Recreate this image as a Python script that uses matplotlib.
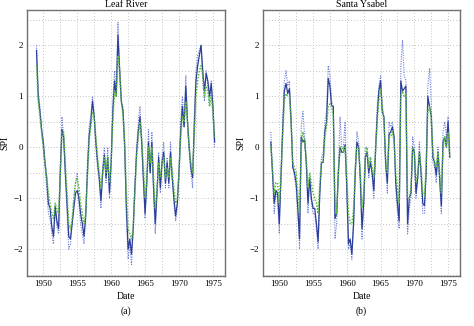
import numpy as np
import matplotlib
matplotlib.use('Agg')
import matplotlib.pyplot as plt
from matplotlib.ticker import MultipleLocator

plt.rcParams['font.family'] = ['Liberation Serif', 'DejaVu Serif']

# Quarterly SPI values, Leaf River (from 1949.0)
leaf_obs = [
    1.9, 1.0, 0.7, 0.35,
    0.1, -0.3, -0.6, -1.1,
    -1.2, -1.55, -1.75, -1.15,
    -1.45, -1.6, -0.5, 0.35,
    0.2, -0.5, -1.1, -1.75,
    -1.8, -1.5, -1.2, -0.9,
    -0.85, -1.0, -1.3, -1.5,
    -1.75, -1.35, -0.5, 0.2,
    0.5, 0.9, 0.6, 0.1,
    -0.3, -0.6, -1.05, -0.5,
    -0.15, -0.6, -0.2, -0.9,
    -0.3, 0.7, 1.3, 1.0,
    2.2, 1.5, 0.9, 0.7,
    0.0, -1.2, -2.0, -1.8,
    -2.1, -1.6, -0.8, -0.1,
    0.3, 0.6, 0.1, -0.6,
    -1.3, -0.7, 0.1, -0.5,
    0.1, -0.8, -1.5, -0.9,
    -0.2, -0.8, -0.3, -0.1,
    -0.7, -0.3, -0.7, -0.1,
    -0.6, -1.0, -1.35, -1.1,
    -0.5, 0.3, 0.8, 0.4,
    1.2, 0.5, 0.0, -0.4,
    -0.6, 0.4, 1.3, 1.6,
    1.8, 2.0, 1.5, 1.1,
    1.45, 1.3, 1.0, 1.25,
    0.8, 0.1,
]
leaf_fit = [
    1.6, 0.9, 0.6, 0.3,
    0.0, -0.3, -0.6, -0.9,
    -1.1, -1.3, -1.4, -1.1,
    -1.2, -1.3, -0.6, 0.3,
    0.3, -0.3, -0.9, -1.5,
    -1.6, -1.4, -1.0, -0.7,
    -0.6, -0.8, -1.1, -1.3,
    -1.5, -1.3, -0.6, 0.1,
    0.4, 0.7, 0.6, 0.2,
    -0.2, -0.5, -0.8, -0.5,
    -0.2, -0.5, -0.2, -0.7,
    -0.3, 0.5, 1.1, 1.0,
    1.8, 1.5, 0.9, 0.6,
    0.1, -0.9, -1.6, -1.7,
    -1.8, -1.6, -0.9, -0.2,
    0.2, 0.5, 0.2, -0.4,
    -1.0, -0.7, 0.0, -0.3,
    0.0, -0.6, -1.2, -0.9,
    -0.3, -0.6, -0.3, -0.2,
    -0.6, -0.4, -0.6, -0.2,
    -0.5, -0.8, -1.1, -1.0,
    -0.5, 0.2, 0.6, 0.5,
    0.9, 0.5, 0.0, -0.3,
    -0.5, 0.2, 1.0, 1.3,
    1.5, 1.6, 1.4, 1.0,
    1.2, 1.1, 0.8, 1.0,
    0.7, 0.2,
]
leaf_raw = [
    2.0, 1.1, 0.8, 0.3,
    0.0, -0.4, -0.8, -1.3,
    -1.4, -1.7, -1.9, -1.2,
    -1.55, -1.7, -0.4, 0.6,
    0.2, -0.6, -1.3, -2.0,
    -1.9, -1.5, -1.0, -0.7,
    -0.5, -1.1, -1.5, -1.7,
    -1.9, -1.3, -0.3, 0.4,
    0.6, 1.0, 0.6, 0.0,
    -0.4, -0.7, -1.2, -0.4,
    0.0, -0.7, 0.0, -1.0,
    -0.2, 0.9, 1.5, 1.1,
    2.45, 1.6, 0.9, 0.8,
    -0.1, -1.4, -2.2, -1.9,
    -2.3, -1.6, -0.7, 0.0,
    0.5, 0.8, 0.1, -0.7,
    -1.4, -0.6, 0.35, -0.5,
    0.3, -0.9, -1.7, -0.9,
    -0.1, -0.9, -0.2, 0.1,
    -0.8, -0.2, -0.8, 0.1,
    -0.6, -1.1, -1.45, -1.2,
    -0.4, 0.5, 1.0, 0.4,
    1.4, 0.5, -0.1, -0.5,
    -0.8, 0.6, 1.5, 1.8,
    1.9, 2.0, 1.3, 0.9,
    1.5, 1.2, 0.8, 1.3,
    0.6, 0.0,
]

# Quarterly SPI values, Santa Ysabel (from 1948.75)
ysabel_obs = [
    0.1,
    -0.5, -1.1, -0.85, -0.9,
    -1.5, -0.6, 0.3, 1.1,
    1.25, 1.05, 1.15, 0.5,
    -0.4, -0.5, -0.7, -1.2,
    -1.8, 0.2, 0.1, 0.15,
    -0.3, -1.1, -0.6, -1.0,
    -1.2, -1.2, -1.5, -1.85,
    -0.9, -0.3, -0.3, 0.3,
    0.5, 1.35, 1.2, 0.8,
    0.8, -1.4, -1.3, -0.5,
    0.0, -0.1, -0.1, 0.05,
    -0.8, -1.9, -1.8, -2.1,
    -1.5, -0.5, 0.1, 0.0,
    -0.6, -1.6, -1.1, -0.2,
    -0.1, -0.5, -0.3, -0.5,
    -0.85, -0.1, 0.6, 1.1,
    1.3, 0.7, 0.6, -0.3,
    -0.7, 0.25, 0.3, 0.4,
    0.2, -0.7, -1.1, -1.45,
    1.3, 1.1, 1.15, 1.2,
    -1.5, -1.0, -0.9, 0.0,
    -0.1, -0.9, -0.6, -0.1,
    -0.5, -1.1, -1.15, -0.5,
    1.0, 0.8, 0.6, -0.2,
    -0.3, -0.55, -0.1, -0.6,
    -1.15, 0.1, 0.2, 0.0,
    0.5, -0.2,
]
ysabel_fit = [
    0.0,
    -0.4, -0.9, -0.7, -0.7,
    -1.1, -0.6, 0.2, 0.9,
    1.05, 1.0, 1.0, 0.5,
    -0.3, -0.4, -0.5, -0.9,
    -1.3, 0.0, 0.3, 0.1,
    -0.2, -0.8, -0.5, -0.7,
    -0.9, -1.0, -1.1, -1.3,
    -0.7, -0.3, -0.3, 0.2,
    0.4, 0.8, 0.85, 0.8,
    0.6, -1.0, -1.3, -0.5,
    0.0, 0.0, -0.1, 0.0,
    -0.6, -1.3, -1.5, -1.5,
    -1.2, -0.4, 0.0, 0.0,
    -0.5, -1.2, -0.9, -0.2,
    0.0, -0.4, -0.2, -0.4,
    -0.6, -0.1, 0.5, 0.9,
    1.15, 0.8, 0.5, -0.2,
    -0.5, 0.2, 0.2, 0.3,
    0.1, -0.5, -0.8, -1.1,
    1.0, 1.1, 1.0, 1.05,
    -1.0, -1.0, -0.8, 0.0,
    -0.1, -0.7, -0.5, -0.1,
    -0.4, -0.9, -0.95, -0.4,
    0.7, 0.8, 0.6, -0.1,
    -0.3, -0.4, -0.1, -0.5,
    -0.9, 0.0, 0.2, 0.0,
    0.3, -0.2,
]
ysabel_raw = [
    0.3,
    -0.6, -1.3, -0.9, -1.0,
    -1.7, -0.5, 0.5, 1.3,
    1.5, 1.2, 1.3, 0.6,
    -0.3, -0.6, -0.8, -1.3,
    -2.0, 0.4, 0.7, 0.2,
    -0.3, -1.3, -0.6, -1.1,
    -1.3, -1.3, -1.6, -2.0,
    -0.9, -0.2, -0.1, 0.5,
    0.7, 1.6, 1.4, 0.9,
    0.8, -1.8, -1.5, -0.4,
    0.6, 0.0, 0.0, 0.5,
    -0.9, -2.0, -1.9, -2.2,
    -1.5, -0.4, 0.3, 0.1,
    -0.7, -1.8, -1.1, 0.0,
    0.0, -0.6, -0.2, -0.6,
    -1.0, 0.0, 0.8, 1.2,
    1.4, 0.8, 0.5, -0.4,
    -0.9, 0.5, 0.4, 0.5,
    0.2, -0.8, -1.3, -1.6,
    1.6, 2.1, 1.4, 1.3,
    -1.7, -1.2, -1.0, 0.2,
    0.0, -1.0, -0.6, 0.1,
    -0.6, -1.3, -1.3, -0.4,
    1.2, 1.55, 0.9, -0.3,
    -0.4, -0.7, 0.0, -0.7,
    -1.3, 0.3, 0.5, 0.2,
    0.6, -0.1,
]

leaf_t = 1949.0 + 0.25 * np.arange(len(leaf_obs))
ysabel_t = 1948.75 + 0.25 * np.arange(len(ysabel_obs))

panels = [
    ("Leaf River", "(a)", leaf_t, leaf_obs, leaf_fit, leaf_raw),
    ("Santa Ysabel", "(b)", ysabel_t, ysabel_obs, ysabel_fit, ysabel_raw),
]

fig = plt.figure(figsize=(4.74, 3.26), dpi=100)
boxes = [[0.057, 0.153, 0.418, 0.816], [0.555, 0.153, 0.416, 0.816]]

for box, (title, tag, t, obs, fit, raw) in zip(boxes, panels):
    ax = fig.add_axes(box)
    ax.plot(t, raw, color='#6a7bd6', lw=0.8, ls=(0, (1, 1.2)))
    ax.plot(t, obs, color='#2c3f98', lw=0.9)
    ax.plot(t, fit, color='#5cbf3c', lw=1.1, ls=(0, (1, 1)))

    ax.set_xlim(1947.6, 1976.8)
    ax.set_ylim(-2.53, 2.69)
    ax.set_xticks([1950, 1955, 1960, 1965, 1970, 1975])
    ax.set_yticks([-2, -1, 0, 1, 2])
    ax.set_yticklabels(['\u22122', '\u22121', '0', '1', '2'])
    ax.xaxis.set_minor_locator(MultipleLocator(2.5))
    ax.yaxis.set_minor_locator(MultipleLocator(0.5))
    ax.grid(which='both', color='#b0b0b0', lw=0.6, ls=(0, (1, 2.5)))
    ax.set_axisbelow(True)
    ax.tick_params(which='both', length=0, labelsize=6.5, pad=3)
    for s in ax.spines.values():
        s.set_color('#707070')
        s.set_linewidth(1.0)

    ax.set_title(title, fontsize=7, pad=2)
    ax.set_ylabel("SPI", fontsize=7, labelpad=3)
    ax.set_xlabel("Date", fontsize=7, labelpad=3)
    ax.text(0.5, -0.13, tag, transform=ax.transAxes, ha='center', va='center', fontsize=7)

fig.savefig("out.png", dpi=100)
